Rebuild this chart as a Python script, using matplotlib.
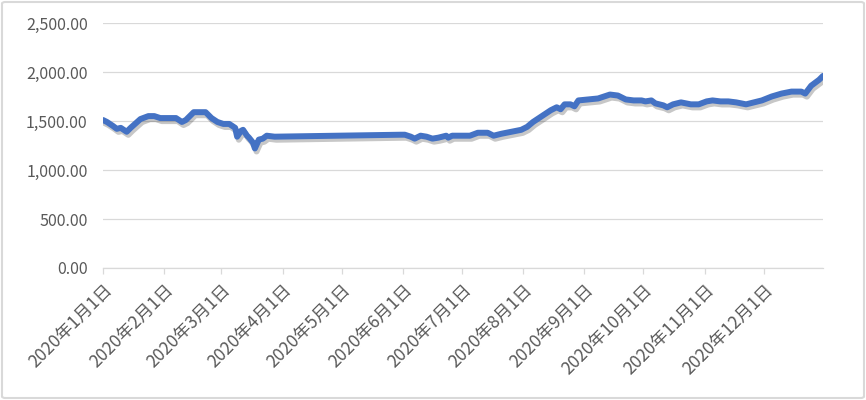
import matplotlib
matplotlib.use("Agg")
import matplotlib.pyplot as plt
import matplotlib.patheffects as pe
from matplotlib.patches import FancyBboxPatch
from matplotlib.ticker import FuncFormatter
import pandas as pd

plt.rcParams['font.family'] = ['Noto Sans CJK SC', 'DejaVu Sans']

dates = ["2020-01-01", "2020-01-03", "2020-01-06", "2020-01-08", "2020-01-10", "2020-01-13",
         "2020-01-15", "2020-01-20", "2020-01-24", "2020-01-27", "2020-01-30", "2020-02-04",
         "2020-02-07", "2020-02-10", "2020-02-12", "2020-02-16", "2020-02-22", "2020-02-25",
         "2020-02-28", "2020-03-02", "2020-03-05", "2020-03-08", "2020-03-09", "2020-03-11",
         "2020-03-12", "2020-03-14", "2020-03-15", "2020-03-17", "2020-03-18", "2020-03-20",
         "2020-03-22", "2020-03-24", "2020-03-28", "2020-05-31", "2020-06-02", "2020-06-05",
         "2020-06-07", "2020-06-10", "2020-06-13", "2020-06-16", "2020-06-19", "2020-06-23",
         "2020-06-24", "2020-06-26", "2020-07-05", "2020-07-09", "2020-07-14", "2020-07-17",
         "2020-07-21", "2020-07-26", "2020-07-31", "2020-08-03", "2020-08-06", "2020-08-09",
         "2020-08-12", "2020-08-15", "2020-08-18", "2020-08-20", "2020-08-22", "2020-08-25",
         "2020-08-27", "2020-08-29", "2020-09-03", "2020-09-08", "2020-09-11", "2020-09-14",
         "2020-09-18", "2020-09-22", "2020-09-26", "2020-09-30", "2020-10-02", "2020-10-05",
         "2020-10-07", "2020-10-11", "2020-10-13", "2020-10-16", "2020-10-20", "2020-10-25",
         "2020-10-29", "2020-11-02", "2020-11-05", "2020-11-09", "2020-11-13", "2020-11-17",
         "2020-11-22", "2020-11-26", "2020-11-30", "2020-12-05", "2020-12-10", "2020-12-15",
         "2020-12-20", "2020-12-22", "2020-12-25", "2020-12-29", "2020-12-31"]
values = [1510, 1490, 1450, 1420, 1430, 1390,
          1430, 1520, 1550, 1550, 1530, 1530,
          1530, 1490, 1510, 1590, 1590, 1530,
          1490, 1470, 1470, 1430, 1340, 1400,
          1410, 1350, 1330, 1280, 1220, 1310,
          1320, 1350, 1340, 1360, 1360, 1340,
          1320, 1350, 1340, 1320, 1330, 1350,
          1330, 1350, 1350, 1380, 1380, 1350,
          1370, 1390, 1410, 1440, 1490, 1530,
          1570, 1610, 1640, 1620, 1670, 1670,
          1650, 1710, 1720, 1730, 1750, 1770,
          1760, 1720, 1710, 1710, 1700, 1710,
          1680, 1660, 1640, 1670, 1690, 1670,
          1670, 1700, 1710, 1700, 1700, 1690,
          1670, 1690, 1710, 1750, 1780, 1800,
          1800, 1780, 1860, 1920, 1960]

tick_dates = ["2020-01-01", "2020-02-01", "2020-03-01", "2020-04-01", "2020-05-01", "2020-06-01",
              "2020-07-01", "2020-08-01", "2020-09-01", "2020-10-01", "2020-11-01", "2020-12-01"]
tick_labels = ["2020年1月1日", "2020年2月1日", "2020年3月1日", "2020年4月1日", "2020年5月1日",
               "2020年6月1日", "2020年7月1日", "2020年8月1日", "2020年9月1日", "2020年10月1日",
               "2020年11月1日", "2020年12月1日"]
y_ticks = [0, 500, 1000, 1500, 2000, 2500]

x = pd.to_datetime(dates)
fig = plt.figure(figsize=(8.66, 4.0), dpi=100)
ax = fig.add_axes([103/866, 1-268/400, 720/866, 245/400])

ax.plot(x, values, color='#4472C4', lw=4.3, solid_capstyle='round', solid_joinstyle='round',
        path_effects=[pe.SimpleLineShadow(offset=(1.2, -2.2), shadow_color='#000000', alpha=0.22, rho=1.0),
                      pe.Normal()], zorder=3)

ax.set_xlim(pd.Timestamp("2020-01-01"), pd.Timestamp("2020-12-31"))
ax.set_ylim(0, 2500)
ax.set_yticks(y_ticks)
ax.yaxis.set_major_formatter(FuncFormatter(lambda v, p: f"{v:,.2f}"))
ax.set_xticks(pd.to_datetime(tick_dates))
ax.set_xticklabels(tick_labels, rotation=45, ha='right', rotation_mode='anchor')

ax.grid(axis='y', color='#d9d9d9', lw=0.9)
ax.set_axisbelow(True)
for s in ['top', 'right', 'left']:
    ax.spines[s].set_visible(False)
ax.spines['bottom'].set_color('#d9d9d9')
ax.spines['bottom'].set_linewidth(0.9)
ax.tick_params(axis='y', length=0, pad=11, labelsize=11.5, labelcolor='#595959')
ax.tick_params(axis='x', length=4, width=0.9, color='#d9d9d9', pad=5, labelsize=12.5, labelcolor='#595959')

fig.patches.append(FancyBboxPatch((2/866, 2/400), 862/866, 396/400, boxstyle='round,pad=0,rounding_size=0.004',
                                  transform=fig.transFigure, fill=False, ec='#d9d9d9', lw=1.5))

fig.savefig("out.png", dpi=100)
